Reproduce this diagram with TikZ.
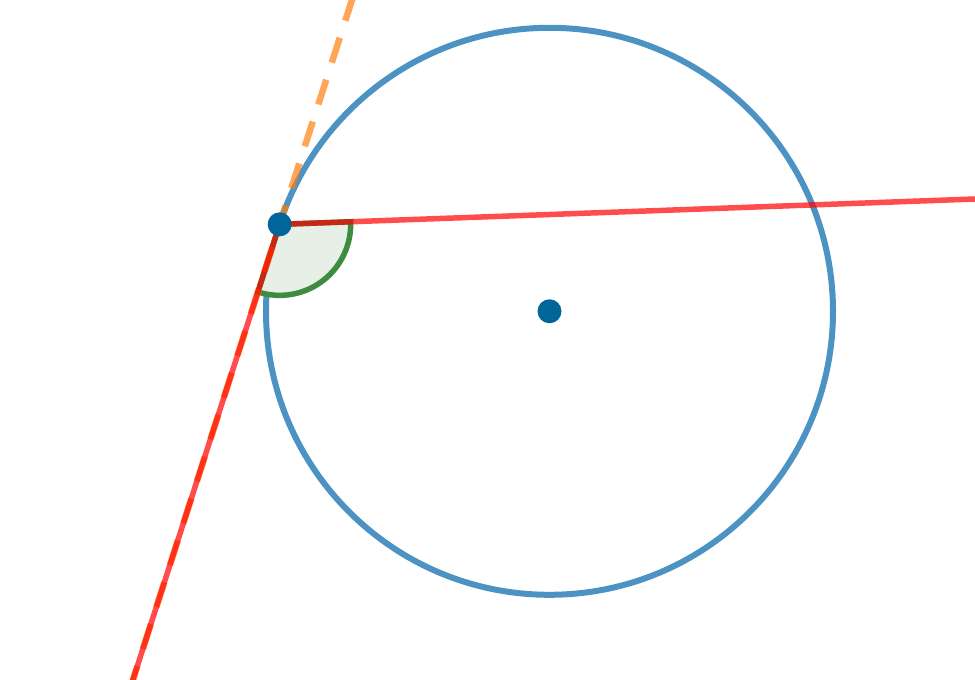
\documentclass[tikz,border=0pt]{standalone}
\usetikzlibrary{calc}
\begin{document}
\begin{tikzpicture}[x=1pt,y=1pt,
  circ/.style={draw={rgb,255:red,31;green,119;blue,180},draw opacity=0.8,line width=6pt},
  tang/.style={draw={rgb,255:red,255;green,127;blue,14},draw opacity=0.7,line width=6.5pt,dash pattern=on 26pt off 18pt},
  ray/.style={draw={rgb,255:red,255;green,0;blue,0},draw opacity=0.7,line width=5.5pt},
  wedge/.style={fill={rgb,255:red,230;green,240;blue,230},draw={rgb,255:red,61;green,140;blue,64},line width=5.5pt},
  dot/.style={circle,fill={rgb,255:red,0;green,102;blue,153},inner sep=0pt,minimum size=24pt}]
\clip (0,0) rectangle (975,680);
\useasboundingbox (0,0) rectangle (975,680);
\coordinate (C) at (549.5,368.7);
\coordinate (P) at ($(C)+(162.14:283.5)$);
\coordinate (R) at (975,481);
\coordinate (T1) at ($(P)+(72.14:240)$);
\coordinate (T2) at ($(P)+(252.14:490)$);
\draw[circ] (C) circle (283.5);
\draw[wedge] (P) -- ++(-107.86:71) arc[start angle=-107.86,end angle=2.07,radius=71] -- cycle;
\draw[tang] (T1) -- (T2);
\draw[ray] (R) -- (P) -- (T2);
\node[dot] (p) at (P) {};
\node[dot] (c) at (C) {};
\end{tikzpicture}
\end{document}
